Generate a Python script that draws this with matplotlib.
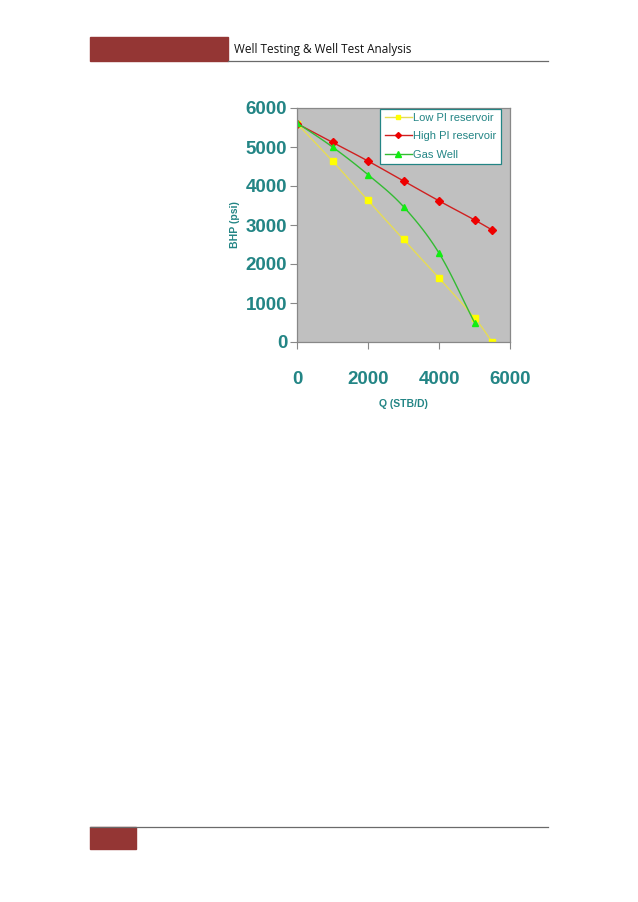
import numpy as np
import matplotlib.pyplot as plt
from matplotlib.patches import Rectangle
from matplotlib.lines import Line2D

# data
q = [0, 1000, 2000, 3000, 4000, 5000, 5500]
low_pi = [5600, 4640, 3630, 2630, 1640, 620, 0]
high_pi = [5600, 5120, 4640, 4130, 3620, 3130, 2870]
q_gas = [0, 1000, 2000, 3000, 4000, 5000]
gas_well = [5620, 5000, 4290, 3470, 2280, 500]

teal = '#238585'
brick = '#943634'


def smooth(x, y, n=20):
    # catmull-rom through the given points, just for a rounder line like excel
    x = np.asarray(x, float)
    y = np.asarray(y, float)
    px = np.concatenate([[2 * x[0] - x[1]], x, [2 * x[-1] - x[-2]]])
    py = np.concatenate([[2 * y[0] - y[1]], y, [2 * y[-1] - y[-2]]])
    xs, ys = [], []
    t = np.linspace(0, 1, n)
    for i in range(1, len(px) - 2):
        for p, out in ((px, xs), (py, ys)):
            p0, p1, p2, p3 = p[i - 1], p[i], p[i + 1], p[i + 2]
            out.extend(0.5 * (2 * p1 + (-p0 + p2) * t
                              + (2 * p0 - 5 * p1 + 4 * p2 - p3) * t ** 2
                              + (-p0 + 3 * p1 - 3 * p2 + p3) * t ** 3))
    return xs, ys


W, H = 638, 902
fig = plt.figure(figsize=(W / 100, H / 100), dpi=100)
fig.patch.set_facecolor('white')

# page header / footer
fig.patches.append(Rectangle((90 / W, 1 - 61 / H), 138 / W, 24 / H,
                             transform=fig.transFigure, color=brick, zorder=1))
fig.lines.append(Line2D([228 / W, 548 / W], [1 - 61 / H, 1 - 61 / H],
                        transform=fig.transFigure, color='#6a6a6a', lw=0.9))
fig.text(234 / W, 1 - 50 / H, 'Well Testing & Well Test Analysis',
         fontsize=8.5, family='Open Sans', va='center', ha='left', color='#111111')
fig.lines.append(Line2D([90 / W, 548 / W], [1 - 827 / H, 1 - 827 / H],
                        transform=fig.transFigure, color='#6a6a6a', lw=0.9))
fig.patches.append(Rectangle((90 / W, 1 - 849 / H), 46 / W, 22 / H,
                             transform=fig.transFigure, color=brick, zorder=1))

# chart
ax = fig.add_axes([297 / W, 1 - 342 / H, 213 / W, 234 / H])
ax.set_facecolor('#c0c0c0')
ax.set_xlim(0, 6000)
ax.set_ylim(0, 6000)

xs, ys = smooth(q, low_pi)
ax.plot(xs, ys, color='#e6dc55', lw=1.0)
ax.plot(q, low_pi, ls='none', marker='s', ms=4.5, color='#ffff00', mec='#ffff00')
xs, ys = smooth(q, high_pi)
ax.plot(xs, ys, color='#d02020', lw=1.0)
ax.plot(q, high_pi, ls='none', marker='D', ms=4, color='#ee0000', mec='#ee0000')
xs, ys = smooth(q_gas, gas_well)
ax.plot(xs, ys, color='#33bb33', lw=1.0)
ax.plot(q_gas, gas_well, ls='none', marker='^', ms=5, color='#11ee11', mec='#11ee11')

handles = [
    Line2D([], [], color='#e6dc55', lw=1.0, marker='s', ms=3.5, mfc='#ffff00', mec='#ffff00'),
    Line2D([], [], color='#d02020', lw=1.0, marker='D', ms=3, mfc='#ee0000', mec='#ee0000'),
    Line2D([], [], color='#33bb33', lw=1.0, marker='^', ms=4, mfc='#11ee11', mec='#11ee11'),
]
leg = ax.legend(handles, ['Low PI reservoir', 'High PI reservoir', 'Gas Well'],
                loc='upper right', bbox_to_anchor=(0.96, 1.0), frameon=True,
                fancybox=False, framealpha=1, edgecolor=teal,
                prop={'family': 'Liberation Sans', 'size': 8},
                labelcolor=teal, handlelength=2.4, handletextpad=0.15,
                borderpad=0.4, labelspacing=0.75, borderaxespad=0.05)
leg.get_frame().set_linewidth(0.9)

ax.set_xticks([0, 2000, 4000, 6000])
ax.set_yticks([0, 1000, 2000, 3000, 4000, 5000, 6000])
ax.tick_params(axis='x', direction='out', length=5, pad=16, colors='#888888',
               labelcolor=teal, labelsize=13.5)
ax.tick_params(axis='y', direction='out', length=5, pad=2, colors='#888888',
               labelcolor=teal, labelsize=13.5)
for lab in ax.get_xticklabels() + ax.get_yticklabels():
    lab.set_fontfamily('Liberation Sans')
    lab.set_fontweight('bold')
for s in ax.spines.values():
    s.set_color('#888888')
    s.set_linewidth(0.9)

ax.set_xlabel('Q (STB/D)', color=teal, fontsize=7.5, fontweight='bold',
              family='Liberation Sans', labelpad=8)
ax.set_ylabel('BHP (psi)', color=teal, fontsize=7.5, fontweight='bold',
              family='Liberation Sans', labelpad=4)

fig.savefig('out.png', dpi=100)
